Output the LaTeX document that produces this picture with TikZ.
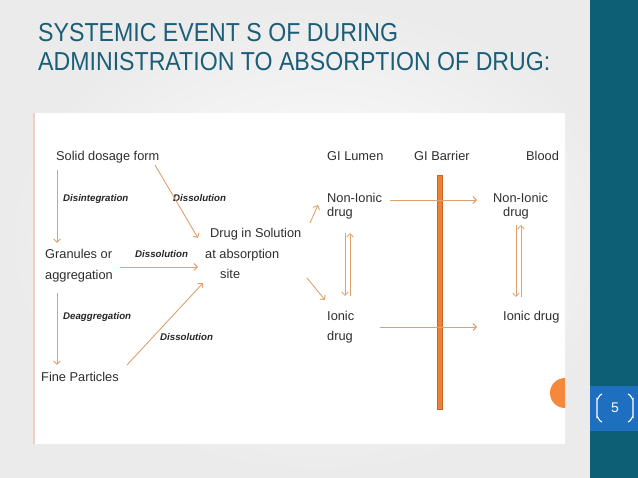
\documentclass[tikz,border=0pt]{standalone}
\usepackage{fontspec}
\setmainfont{Liberation Sans}
\usetikzlibrary{arrows.meta,calc}
\definecolor{titleteal}{HTML}{1B5E78}
\definecolor{barteal}{HTML}{0C5F75}
\definecolor{bandblue}{HTML}{1E6FC0}
\definecolor{arrtan}{HTML}{E0A06C}
\definecolor{barorange}{HTML}{EF8132}
\definecolor{barorangedark}{HTML}{C8662A}
\definecolor{txt}{HTML}{2E2E2E}
\definecolor{panelline}{HTML}{F0CFC2}
\definecolor{dotorange}{HTML}{F5883A}
\begin{document}
\begin{tikzpicture}[x=1pt,y=-1pt,
  txtnode/.style={anchor=base west, inner sep=0pt, text=txt, font=\fontsize{12.8}{15}\selectfont},
  lab/.style={anchor=base west, inner sep=0pt, text=black!85, font=\fontsize{9.7}{11}\selectfont\bfseries\itshape},
  arr/.style={draw=arrtan, line width=0.9pt, -{Straight Barb[length=3.5pt,width=7pt]}},
  eqarr/.style={draw=arrtan, line width=0.75pt, -{Straight Barb[length=3.5pt,width=6.5pt]}},
  titletext/.style={anchor=base west, inner sep=0pt, text=titleteal, font=\fontsize{26}{30}\selectfont},
  barrierbox/.style={draw=barorangedark, fill=barorange, line width=0.6pt, minimum width=5pt, minimum height=234pt, inner sep=0pt},
  pagenum/.style={text=white, font=\fontsize{14}{16}\selectfont, inner sep=0pt}
]
\useasboundingbox (0,0) rectangle (638,478);
\shade[inner color=white, outer color=black!8] (0,0) rectangle (638,478);
% title
\node[titletext] (title1) at (38,42) {\scalebox{0.89}[1]{SYSTEMIC EVENT S OF DURING}};
\node[titletext] (title2) at (38,71) {\scalebox{0.89}[1]{ADMINISTRATION TO ABSORPTION OF DRUG:}};
% side bar
\fill[barteal] (590,0) rectangle (638,478);
\fill[bandblue] (590,386) rectangle (638,431);
\node[pagenum] (pnum) at (615,408) {5};
\draw[white, line width=1.1pt] ($(pnum)+(-13,-14)$) to[out=180,in=-90] ($(pnum)+(-18,-9)$) -- ($(pnum)+(-18,9)$) to[out=90,in=180] ($(pnum)+(-13,14)$);
\draw[white, line width=1.1pt] ($(pnum)+(13,-14)$) to[out=0,in=-90] ($(pnum)+(18,-9)$) -- ($(pnum)+(18,9)$) to[out=90,in=0] ($(pnum)+(13,14)$);
% panel
\fill[white] (33,113) rectangle (565,444);
\draw[panelline, line width=1.6pt] (34,113) -- (34,444);
\begin{scope}
\clip (33,113) rectangle (565,444);
\fill[dotorange] (565,393) circle (15);
\end{scope}
% left nodes
\node[txtnode] (solid) at (56,161) {Solid dosage form};
\node[txtnode] (gran1) at (45,259) {Granules or};
\node[txtnode] (gran2) at (45,280) {aggregation};
\node[txtnode] (fine) at (41,382) {Fine Particles};
\node[txtnode] (ds1) at (210,238) {Drug in Solution};
\node[txtnode] (ds2) at (205,259) {at absorption};
\node[txtnode] (ds3) at (220,279) {site};
% labels
\node[lab] (disint) at (63,202) {Disintegration};
\node[lab] (diss1) at (173,202) {Dissolution};
\node[lab] (diss2) at (135,258) {Dissolution};
\node[lab] (deagg) at (63,320) {Deaggregation};
\node[lab] (diss3) at (160,341) {Dissolution};
% right nodes
\node[txtnode] (lumen) at (327,161) {GI Lumen};
\node[txtnode] (barrierlbl) at (414,161) {GI Barrier};
\node[txtnode] (blood) at (526,161) {Blood};
\node[txtnode] (nonL1) at (327,203) {Non-Ionic};
\node[txtnode] (nonL2) at (327,217) {drug};
\node[txtnode] (nonB1) at (493,203) {Non-Ionic};
\node[txtnode] (nonB2) at (503,217) {drug};
\node[txtnode] (ionL1) at (327,321) {Ionic};
\node[txtnode] (ionL2) at (327,341) {drug};
\node[txtnode] (ionB) at (503,321) {Ionic drug};
% barrier
\node[barrierbox] (wall) at (440,292) {};
% left arrows
\draw[arr] ($(solid.base west)+(1,9)$) -- ($(gran1.base west)+(12,-16)$);
\draw[arr] ($(solid.base west)+(99,4)$) -- ($(ds1.base west)+(-12,0)$);
\draw[arr] ($(gran1.base west)+(75,8)$) -- ($(ds2.base west)+(-7,8)$);
\draw[arr] ($(gran2.base west)+(12,13)$) -- ($(fine.base west)+(16,-17)$);
\draw[arr] ($(fine.base west)+(86,-17)$) -- ($(ds3.base west)+(-17,4)$);
% to GI lumen species
\draw[arr] ($(ds1.base west)+(100,-15)$) -- ($(nonL2.base west)+(-9,-12)$);
\draw[arr] ($(ds3.base west)+(87,-1)$) -- ($(ionL1.base west)+(-2,-21)$);
% across barrier
\draw[arr] ($(nonL1.base west)+(63,-3)$) -- ($(nonB1.base west)+(-16,-3)$);
\draw[arr] ($(ionL1.base west)+(53,6)$) -- ($(ionB.base west)+(-26,6)$);
% equilibria
\draw[eqarr] ($(nonL2.base west)+(18,16)$) -- ($(ionL1.base west)+(18,-25)$);
\draw[eqarr] ($(ionL1.base west)+(23,-25)$) -- ($(nonL2.base west)+(23,16)$);
\draw[eqarr] ($(nonB2.base west)+(13,8)$) -- ($(ionB.base west)+(13,-24)$);
\draw[eqarr] ($(ionB.base west)+(18,-24)$) -- ($(nonB2.base west)+(18,8)$);
\end{tikzpicture}
\end{document}
